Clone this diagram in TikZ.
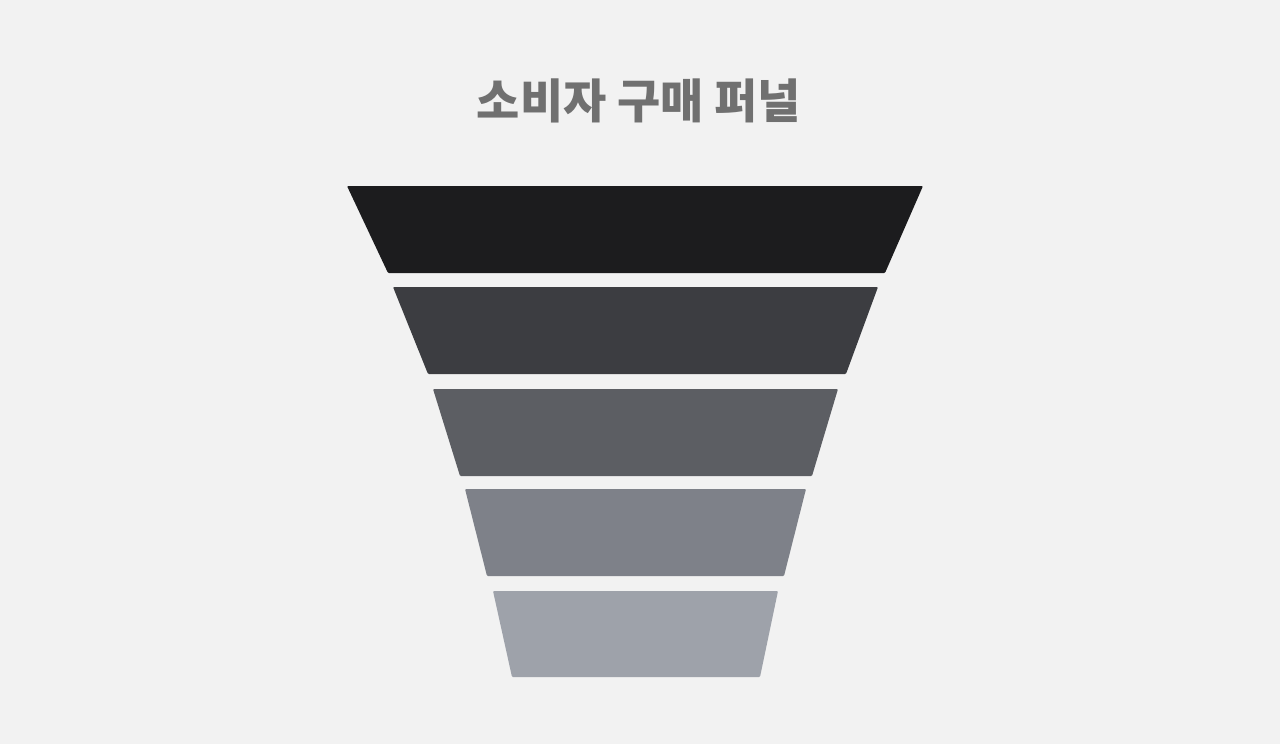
\documentclass[tikz,border=0pt]{standalone}
\usepackage{fontspec}
\newfontfamily\krfont{Noto Sans CJK KR}
\definecolor{bg}{HTML}{F2F2F2}
\definecolor{titlegray}{HTML}{707070}
\definecolor{lay1}{HTML}{1C1C1E}
\definecolor{lay2}{HTML}{3C3D41}
\definecolor{lay3}{HTML}{5C5E63}
\definecolor{lay4}{HTML}{7E8189}
\definecolor{lay5}{HTML}{9EA2AA}
\tikzset{layer/.style={rounded corners=1pt}}
\begin{document}
\begin{tikzpicture}[x=1pt,y=-1pt]
\fill[bg] (0,0) rectangle (1280,744);
\useasboundingbox (0,0) rectangle (1280,744);
\node[font=\krfont\bfseries\fontsize{47}{56}\selectfont, text=titlegray] (title) at (639,101) {소비자 구매 퍼널};
\fill[lay1,layer] (347,186) -- (923,186) -- (885,273) -- (388,273) -- cycle;
\fill[lay2,layer] (393,287) -- (878,287) -- (846,374) -- (428,374) -- cycle;
\fill[lay3,layer] (433,389) -- (838,389) -- (812,476) -- (460,476) -- cycle;
\fill[lay4,layer] (465,489) -- (806,489) -- (784,576) -- (487,576) -- cycle;
\fill[lay5,layer] (493,591) -- (778,591) -- (760,677) -- (512,677) -- cycle;
\end{tikzpicture}
\end{document}
